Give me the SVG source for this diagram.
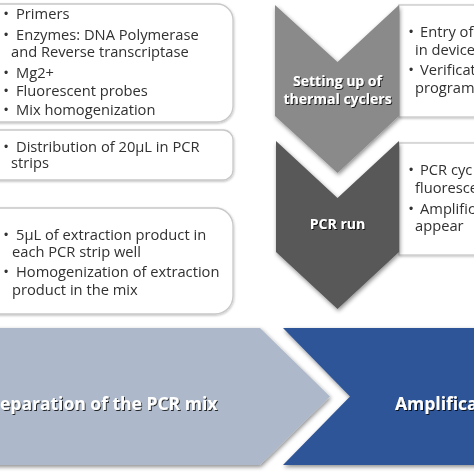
<svg xmlns="http://www.w3.org/2000/svg" width="474" height="474" viewBox="0 0 474 474">
<defs>
<filter id="sh" x="-20%" y="-20%" width="140%" height="140%">
<feDropShadow dx="1" dy="2" stdDeviation="2" flood-color="#000" flood-opacity="0.45"/>
</filter>
<filter id="bsh" x="-10%" y="-10%" width="120%" height="130%">
<feDropShadow dx="0.5" dy="1" stdDeviation="0.8" flood-color="#000" flood-opacity="0.25"/>
</filter>
<filter id="tsh" x="-10%" y="-30%" width="120%" height="160%">
<feDropShadow dx="1" dy="1" stdDeviation="0.6" flood-color="#000" flood-opacity="0.8"/>
</filter>
</defs>
<style>
.box{fill:#fff;stroke:#c8c8c8;stroke-width:1.3}
.t{font-family:"Open Sans","Liberation Sans",sans-serif;font-size:14.7px;fill:#303030}
.b{font-family:"Liberation Sans",sans-serif;font-size:12px;fill:#303030}
.w{font-family:"Open Sans","Liberation Sans",sans-serif;font-weight:bold;fill:#fff}
</style>
<rect width="474" height="474" fill="#fff"/>

<g id="mix-box" filter="url(#bsh)">
<rect class="box" x="-20" y="4" width="253" height="118" rx="16"/>
<text class="b"><tspan x="4" y="18">•</tspan><tspan x="4" y="39">•</tspan><tspan x="4" y="77">•</tspan><tspan x="4" y="95">•</tspan><tspan x="4" y="114">•</tspan></text>
<text class="t"><tspan x="16" y="19">Primers</tspan>
<tspan x="16" y="40">Enzymes: DNA Polymerase</tspan>
<tspan x="11" y="57">and Reverse transcriptase</tspan>
<tspan x="16" y="78">Mg2+</tspan>
<tspan x="16" y="96">Fluorescent probes</tspan>
<tspan x="16" y="115">Mix homogenization</tspan></text>
</g>

<g id="distribution-box" filter="url(#bsh)">
<rect class="box" x="-20" y="130" width="253" height="50" rx="10"/>
<text class="b" x="4" y="151">•</text>
<text class="t"><tspan x="16" y="152">Distribution of 20μL in PCR</tspan>
<tspan x="11" y="168">strips</tspan></text>
</g>

<g id="extraction-box" filter="url(#bsh)">
<rect class="box" x="-20" y="208" width="253" height="106" rx="18"/>
<text class="b"><tspan x="4" y="239">•</tspan><tspan x="4" y="276">•</tspan></text>
<text class="t"><tspan x="16" y="240">5μL of extraction product in</tspan>
<tspan x="12" y="257">each PCR strip well</tspan>
<tspan x="16" y="277">Homogenization of extraction</tspan>
<tspan x="12" y="295">product in the mix</tspan></text>
</g>

<g id="thermal-box" filter="url(#bsh)">
<rect class="box" x="399" y="5" width="90" height="112"/>
<text class="b"><tspan x="409" y="36">•</tspan><tspan x="409" y="74">•</tspan></text>
<text class="t"><tspan x="420" y="37">Entry of</tspan>
<tspan x="415" y="55">in device</tspan>
<tspan x="420" y="75">Verificat</tspan>
<tspan x="415" y="93">programm</tspan></text>
</g>

<g id="run-box" filter="url(#bsh)">
<rect class="box" x="399" y="143" width="90" height="112"/>
<text class="b"><tspan x="409" y="174">•</tspan><tspan x="409" y="213">•</tspan></text>
<text class="t"><tspan x="420" y="175">PCR cyc</tspan>
<tspan x="415" y="193">fluoresce</tspan>
<tspan x="420" y="214">Amplific</tspan>
<tspan x="415" y="231">appear</tspan></text>
</g>

<g id="setup-chevron">
<path d="M275,5 L337.5,62 L399,5 L399,116 L337.5,173 L275,116 Z" fill="#8a8a8a" filter="url(#sh)"/>
<text class="w" font-size="14" text-anchor="middle" filter="url(#tsh)"><tspan x="337.5" y="86">Setting up of</tspan><tspan x="337.5" y="104">thermal cyclers</tspan></text>
</g>

<g id="run-chevron">
<path d="M276,141 L337.5,198 L399,141 L399,252 L337.5,309 L276,252 Z" fill="#595959" filter="url(#sh)"/>
<text class="w" font-size="14" text-anchor="middle" x="337.5" y="229" filter="url(#tsh)">PCR run</text>
</g>

<g id="preparation-arrow">
<path d="M-10,328 L260,328 L330,396.5 L260,465 L-10,465 Z" fill="#adb9ca" filter="url(#sh)"/>
<text class="w" font-size="17.5" x="0" y="410" filter="url(#tsh)">eparation of the PCR mix</text>
</g>

<g id="amplification-arrow">
<path d="M283,328 L490,328 L490,465 L283,465 L350,396.5 Z" fill="#2f5597" filter="url(#sh)"/>
<text class="w" font-size="17.5" x="395" y="410" filter="url(#tsh)">Amplifica</text>
</g>

<g id="connectors"></g>
</svg>
